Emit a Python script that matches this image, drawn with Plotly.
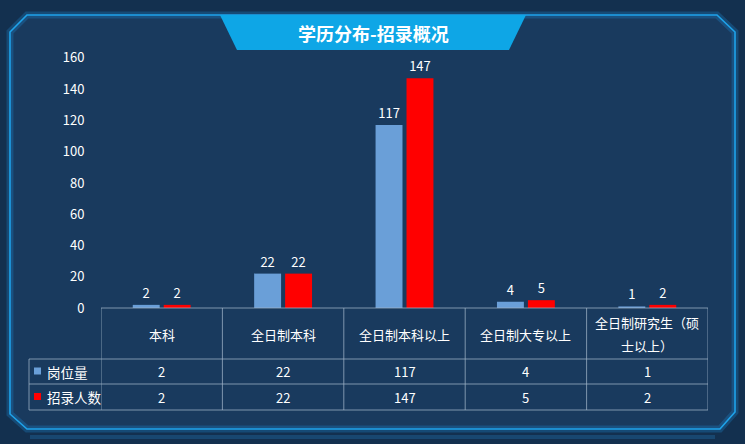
import plotly.graph_objects as go

categories = ['本科', '全日制本科', '全日制本科以上', '全日制大专以上', '全日制研究生（硕士以上）']
header_labels = ['本科', '全日制本科', '全日制本科以上', '全日制大专以上', '全日制研究生（硕<br>士以上）']
posts = [2, 22, 117, 4, 1]
hires = [2, 22, 147, 5, 2]
series_names = ['岗位量', '招录人数']
series_colors = ['#6a9fd8', '#ff0000']

W, H = 745, 444
FONT = 'Noto Sans CJK SC, Microsoft YaHei, sans-serif'
LINE = 'rgba(160,180,200,0.75)'


def px(x):
    return x / W


def py(y):
    return 1 - y / H


def path(points):
    return 'M ' + ' L '.join(f'{px(a):.4f},{py(b):.4f}' for a, b in points) + ' Z'


fig = go.Figure()
for name, vals, col in zip(series_names, [posts, hires], series_colors):
    fig.add_trace(go.Bar(
        x=categories, y=vals, name=name, marker_color=col,
        marker_line_width=0,
        text=vals, textposition='outside', cliponaxis=False,
        textfont=dict(color='white', size=13, family=FONT),
    ))

shapes = []
# faint outer glow band near the bottom
shapes.append(dict(type='line', xref='paper', yref='paper', x0=px(30), x1=px(715),
                   y0=py(437), y1=py(437), line=dict(color='rgba(40,140,210,0.25)', width=4),
                   layer='below'))
# frame
frame = [(27, 15), (717, 15), (735, 32), (735, 412), (720, 429),
         (27, 429), (10, 414), (10, 32)]
shapes.append(dict(type='path', xref='paper', yref='paper', path=path(frame),
                   fillcolor='#193a5e', line=dict(color='rgba(30,150,230,0.25)', width=7),
                   layer='below'))
shapes.append(dict(type='path', xref='paper', yref='paper', path=path(frame),
                   line=dict(color='#1fa3ea', width=1.6), layer='below'))
# title banner
shapes.append(dict(type='path', xref='paper', yref='paper',
                   path=path([(220, 15), (526, 15), (509, 50), (237, 50)]),
                   fillcolor='#0ea6e6', line_width=0, layer='below'))

# table lines
shapes.append(dict(type='line', xref='paper', yref='paper', x0=px(101), x1=px(708),
                   y0=py(308), y1=py(308), line=dict(color=LINE, width=1)))
for y0 in [359, 384, 410]:
    shapes.append(dict(type='line', xref='paper', yref='paper', x0=px(29), x1=px(708),
                       y0=py(y0), y1=py(y0), line=dict(color=LINE, width=1)))
for i in range(len(categories) + 1):
    shapes.append(dict(type='line', xref='x', yref='paper', x0=i - 0.5, x1=i - 0.5,
                       y0=py(308), y1=py(410), line=dict(color=LINE, width=1)))
shapes.append(dict(type='line', xref='paper', yref='paper', x0=px(29), x1=px(29),
                   y0=py(359), y1=py(410), line=dict(color=LINE, width=1)))


def note(text, x, y, xref='paper', size=13, xanchor='center'):
    return dict(text=text, xref=xref, yref='paper', x=x, y=y, showarrow=False,
                xanchor=xanchor, yanchor='middle',
                font=dict(color='white', size=size, family=FONT))


annotations = [note('<b>学历分布-招录概况</b>', px(373), py(33), size=18)]

# header cells, wrapped lines spaced like the reference
for i, lab in enumerate(header_labels):
    lines = lab.split('<br>')
    top = 334 - 23 * (len(lines) - 1) / 2
    for k, ln in enumerate(lines):
        annotations.append(note(ln, i, py(top + 23 * k), xref='x', size=13))

row_y = [371.5, 397]
for r, (name, vals, col) in enumerate(zip(series_names, [posts, hires], series_colors)):
    yc = row_y[r]
    shapes.append(dict(type='rect', xref='paper', yref='paper', x0=px(34), x1=px(41),
                       y0=py(yc - 4), y1=py(yc + 3), fillcolor=col, line_width=0))
    annotations.append(note(name, px(45), py(yc), xanchor='left', size=13.5))
    for i, v in enumerate(vals):
        annotations.append(note(str(v), i, py(yc), xref='x'))

fig.update_layout(
    width=W, height=H, autosize=False,
    margin=dict(l=0, r=0, t=0, b=0, pad=0, autoexpand=False),
    paper_bgcolor='#13304f',
    plot_bgcolor='rgba(0,0,0,0)',
    showlegend=False,
    barmode='group', bargap=0.49, bargroupgap=0.13,
    xaxis=dict(domain=[px(101), px(708)], showticklabels=False, showgrid=False,
               zeroline=False, showline=False, range=[-0.5, 4.5], automargin=False),
    yaxis=dict(domain=[py(308), py(57.9)], range=[0, 160], dtick=20,
               showgrid=False, zeroline=False, showline=False, automargin=False,
               ticks='outside', ticklen=13, tickcolor='rgba(0,0,0,0)',
               tickfont=dict(color='white', size=13, family=FONT)),
    shapes=shapes,
    annotations=annotations,
)

fig.write_html('out.html', config={'displayModeBar': False},
               post_script="document.body.style.margin='0';")
